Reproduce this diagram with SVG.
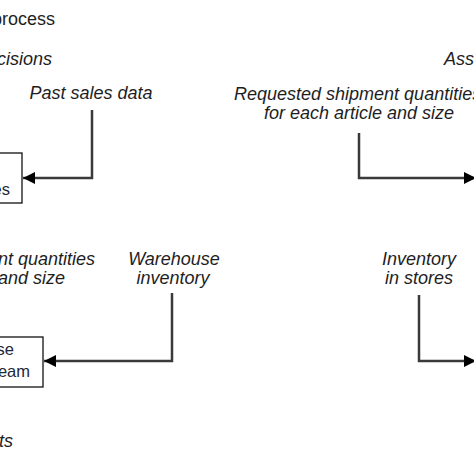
<svg xmlns="http://www.w3.org/2000/svg" width="474" height="474" viewBox="0 0 474 474">
<defs>
<style>
.t{font-family:"Liberation Sans",Arial,sans-serif;font-size:18px;fill:#1e1e1e}
.i{font-style:italic}
.b{font-family:"Liberation Sans",Arial,sans-serif;font-size:16.5px;fill:#22283a}
.box{fill:#fff;stroke:#111;stroke-width:1.3}
.c{fill:none;stroke:#3a3a3a;stroke-width:2.5;stroke-linejoin:miter}
</style>
<marker id="ah" markerUnits="userSpaceOnUse" markerWidth="13" markerHeight="12" refX="12" refY="6" orient="auto">
<path d="M0,0 L12,6 L0,12 Z" fill="#000"/>
</marker>
</defs>
<rect width="474" height="474" fill="#fff"/>
<g id="labels">
<text class="t" x="55" y="25" text-anchor="end">process</text>
<text class="t i" x="52" y="65" text-anchor="end">cisions</text>
<text class="t i" x="91" y="99" text-anchor="middle">Past sales data</text>
<text class="t i" x="444" y="65">Ass</text>
<text class="t i" x="234" y="100">Requested shipment quantities</text>
<text class="t i" x="359" y="119" text-anchor="middle">for each article and size</text>
<text class="t i" x="95" y="265" text-anchor="end">nt quantities</text>
<text class="t i" x="65" y="284" text-anchor="end">and size</text>
<text class="t i" x="174" y="265" text-anchor="middle">Warehouse</text>
<text class="t i" x="173" y="284" text-anchor="middle">inventory</text>
<text class="t i" x="419" y="265" text-anchor="middle">Inventory</text>
<text class="t i" x="419" y="284" text-anchor="middle">in stores</text>
<text class="t i" x="13" y="447" text-anchor="end">ts</text>
</g>
<g id="node-forecast">
<rect class="box" x="-10" y="153" width="32" height="50"/>
<text class="b" x="10" y="195" text-anchor="end">es</text>
</g>
<g id="node-team">
<rect class="box" x="-10" y="337" width="53" height="50"/>
<text class="b" x="14" y="355" text-anchor="end">se</text>
<text class="b" x="30" y="377" text-anchor="end">eam</text>
</g>
<g id="connectors">
<path class="c" d="M92,110 V178 H23" marker-end="url(#ah)"/>
<path class="c" d="M359,133 V178 H476" marker-end="url(#ah)"/>
<path class="c" d="M172,293 V361 H44" marker-end="url(#ah)"/>
<path class="c" d="M419,295 V361 H476" marker-end="url(#ah)"/>
</g>
</svg>
